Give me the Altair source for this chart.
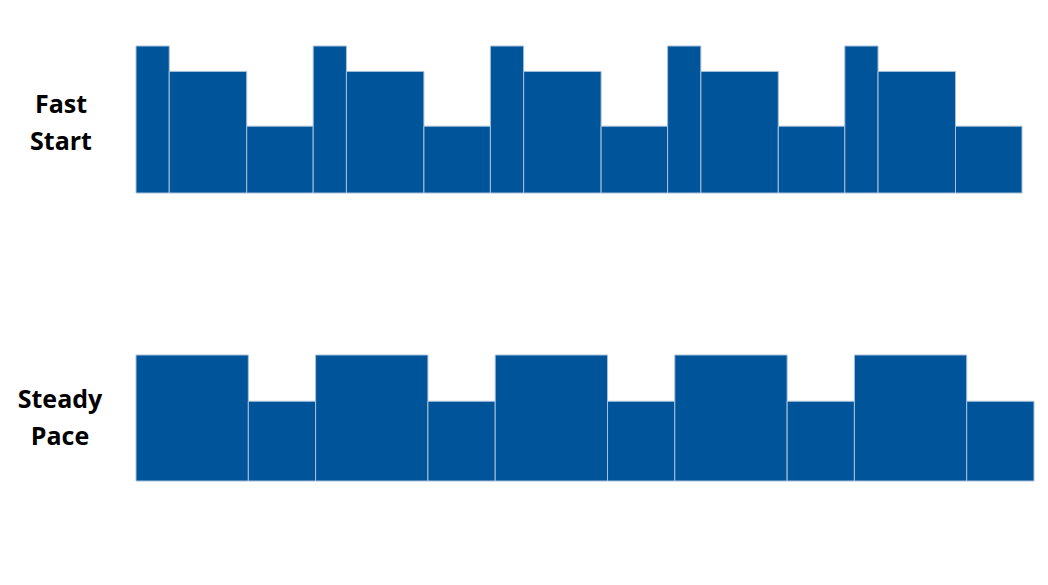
import altair as alt
import pandas as pd

# ---- data ----
row_labels = [["Fast", "Start"], ["Steady", "Pace"]]

fast_durations = [1.0, 2.33, 2.0] * 5     # relative widths of each segment
fast_values = [11.0, 9.1, 5.0] * 5          # relative heights

steady_durations = [1.67, 1.0] * 5
steady_values = [7.9, 5.0] * 5

BAR = "#00549A"
EDGE = "#a9c1da"


def make_df(durations, values):
    df = pd.DataFrame({"dur": durations, "val": values})
    df["end"] = df["dur"].cumsum()
    df["start"] = df["end"] - df["dur"]
    df["base"] = 0.0
    return df


def panel(durations, values, lines, w, h, label_x, label_y):
    df = make_df(durations, values)
    total = float(df["end"].iloc[-1])
    top = float(max(values))
    bars = alt.Chart(df).mark_rect(
        color=BAR, stroke=EDGE, strokeWidth=1
    ).encode(
        x=alt.X("start:Q", axis=None, scale=alt.Scale(domain=[0, total], nice=False, zero=True)),
        x2="end:Q",
        y=alt.Y("val:Q", axis=None, scale=alt.Scale(domain=[0, top], nice=False)),
        y2="base:Q",
    )
    one = pd.DataFrame({"k": [0]})
    txt = alt.Chart(one).mark_text(
        text=lines, font="Open Sans", fontWeight="bold", fontSize=25,
        align="center", baseline="alphabetic", lineHeight=37, color="#000000",
    ).encode(x=alt.value(label_x), y=alt.value(label_y))
    # invisible anchor that fixes the left edge of the layout
    anchor = alt.Chart(one).mark_rect(opacity=0).encode(
        x=alt.value(-128), x2=alt.value(-124), y=alt.value(2), y2=alt.value(4)
    )
    return alt.layer(bars, txt, anchor).properties(width=w, height=h)


top_panel = panel(fast_durations, fast_values, row_labels[0], 886, 147, -75, 67)
bottom_panel = panel(steady_durations, steady_values, row_labels[1], 898, 126, -76, 53)

chart = alt.vconcat(top_panel, bottom_panel, spacing=160).properties(
    padding={"left": 0, "top": 37, "right": 4, "bottom": 4},
    background="white",
).configure_view(stroke=None, strokeWidth=0)

chart.save("out.html", embed_options={"renderer": "svg", "actions": False})
